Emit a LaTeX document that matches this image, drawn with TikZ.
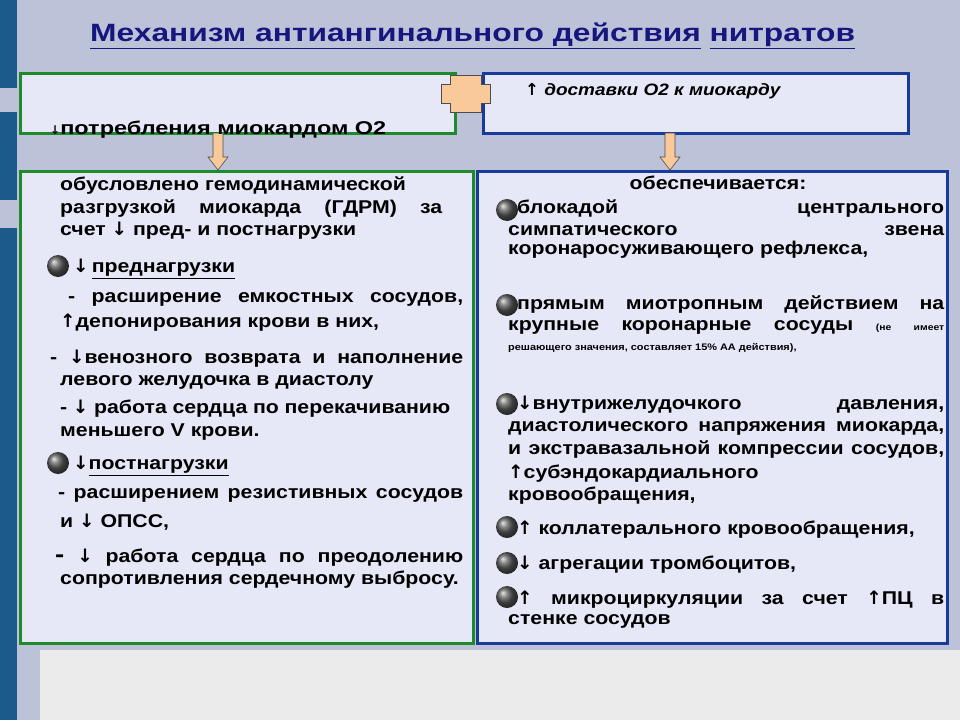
\documentclass[tikz,border=0pt]{standalone}
\usepackage{fontspec}
\setmainfont[FakeStretch=1.15]{Liberation Sans}
\newfontfamily\ttlfont[FakeStretch=1.27]{Liberation Sans}
\newfontfamily\arw{DejaVu Sans}
\usetikzlibrary{shadings}
\definecolor{bg}{HTML}{BCC3D9}
\definecolor{boxfill}{HTML}{E6E8F8}
\definecolor{gbord}{HTML}{1E8A2A}
\definecolor{bbord}{HTML}{1A3A9A}
\definecolor{strip}{HTML}{1C5A8C}
\definecolor{peach}{HTML}{F9C99A}
\definecolor{ttl}{HTML}{16167E}
\newcommand{\dn}{{\arw\char"2193}}
\newcommand{\upa}{{\arw\char"2191}}
\newcommand{\jl}[4]{\node[txt] at (#1,#2) {\makebox[#3pt][s]{#4}};}
\newcommand{\pl}[3]{\node[txt] at (#1,#2) {#3};}
\newcommand{\bul}[2]{\shade[ball color=gray!70!black] (#1,#2) circle (11);}
\tikzset{txt/.style={anchor=west,inner sep=0pt,font=\bfseries\fontsize{18.5}{20}\selectfont},
 gbox/.style={draw=gbord,line width=3pt,fill=boxfill},
 bbox/.style={draw=bbord,line width=2.5pt,fill=boxfill},
 farrow/.style={fill=peach,draw=black!70,line width=0.6pt}}
\begin{document}
\begin{tikzpicture}[x=1pt,y=-1pt]
\useasboundingbox (0,0) rectangle (960,720);
\fill[bg] (0,0) rectangle (960,720);
\fill[black!8!white] (40,650) rectangle (960,720);
\fill[strip] (0,0) rectangle (17,88);
\fill[strip] (0,112) rectangle (17,200);
\fill[strip] (0,228) rectangle (17,720);
\node[font=\ttlfont\bfseries\fontsize{25}{28}\selectfont,text=ttl,anchor=west,inner sep=0pt] (title) at (90,36) {\underline{Механизм антиангинального действия} \underline{нитратов}};
\node[gbox,minimum width=435pt,minimum height=60pt,anchor=north west] (lt) at (19,72) {};
\node[bbox,minimum width=425pt,minimum height=60pt,anchor=north west] (rt) at (482,72) {};
\draw[farrow] (450,75) -- (481,75) -- (481,84) -- (490,84) -- (490,103) -- (481,103) -- (481,112) -- (450,112) -- (450,103) -- (441,103) -- (441,84) -- (450,84) -- cycle;
\node[anchor=west,inner sep=0pt,font=\bfseries\itshape\fontsize{16.5}{18}\selectfont] (rtt) at (525,91) {\upa\ доставки О2 к миокарду};
\node[gbox,minimum width=453pt,minimum height=472pt,anchor=north west] (lb) at (19,170) {};
\node[bbox,minimum width=470pt,minimum height=472pt,anchor=north west] (rb) at (476,170) {};
\draw[farrow] (213,133) -- (223,133) -- (223,157) -- (228,157) -- (218,170) -- (208,157) -- (213,157) -- cycle;
\draw[farrow] (665,133) -- (675,133) -- (675,157) -- (680,157) -- (670,170) -- (660,157) -- (665,157) -- cycle;
\node[txt,font=\ttlfont\bfseries\fontsize{18.5}{20}\selectfont] (ltt) at (50,130) {{\fontsize{12}{12}\selectfont\arw\char"2193}потребления миокардом О2};
% left
\pl{60}{186}{обусловлено гемодинамической}
\jl{60}{209}{382}{разгрузкой миокарда (ГДРМ) за}
\pl{60}{231}{счет \dn\ пред- и постнагрузки}
\bul{58}{266}
\pl{73}{269}{\dn\,\underline{преднагрузки}}
\jl{68}{299}{395}{- расширение емкостных сосудов,}
\pl{60}{323}{\upa депонирования крови в них,}
\jl{50}{359}{413}{- \dn венозного возврата и наполнение}
\pl{60}{382}{левого желудочка в диастолу}
\jl{60}{409}{390}{- \dn\ работа сердца по перекачиванию}
\pl{60}{432}{меньшего V крови.}
\bul{58}{463}
\pl{73}{466}{\dn\underline{постнагрузки}}
\jl{58}{495}{405}{- расширением резистивных сосудов}
\pl{60}{522}{и \dn\ ОПСС,}
\jl{55}{558}{408}{{\fontsize{24}{24}\selectfont -} \dn\ работа сердца по преодолению}
\pl{60}{580}{сопротивления сердечному выбросу.}
% right
\node[txt,anchor=center] (obsp) at (718,183) {обеспечивается:};
\bul{507}{210}
\jl{517}{209}{427}{блокадой центрального}
\jl{508}{231}{436}{симпатического звена}
\pl{508}{250}{коронаросуживающего рефлекса,}
\bul{507}{305}
\jl{517}{305}{427}{прямым миотропным действием на}
\jl{508}{327}{436}{крупные коронарные сосуды {\fontsize{9}{9}\selectfont(не} {\fontsize{9}{9}\selectfont имеет}}
\node[anchor=west,inner sep=0pt,font=\bfseries\fontsize{9.5}{10}\selectfont] (small) at (508,348) {решающего значения, составляет 15\% АА действия),};
\bul{507}{404}
\jl{517}{405}{427}{\dn внутрижелудочкого давления,}
\jl{508}{428}{436}{диастолического напряжения миокарда,}
\jl{508}{450}{436}{и экстравазальной компрессии сосудов,}
\pl{508}{474}{\upa субэндокардиального}
\pl{508}{496}{кровообращения,}
\bul{507}{527}
\pl{517}{530}{\upa\ коллатерального кровообращения,}
\bul{507}{563}
\pl{517}{565}{\dn\ агрегации тромбоцитов,}
\bul{507}{597}
\jl{517}{600}{427}{\upa\ микроциркуляции за счет \upa ПЦ в}
\pl{508}{621}{стенке сосудов}
\end{tikzpicture}
\end{document}
